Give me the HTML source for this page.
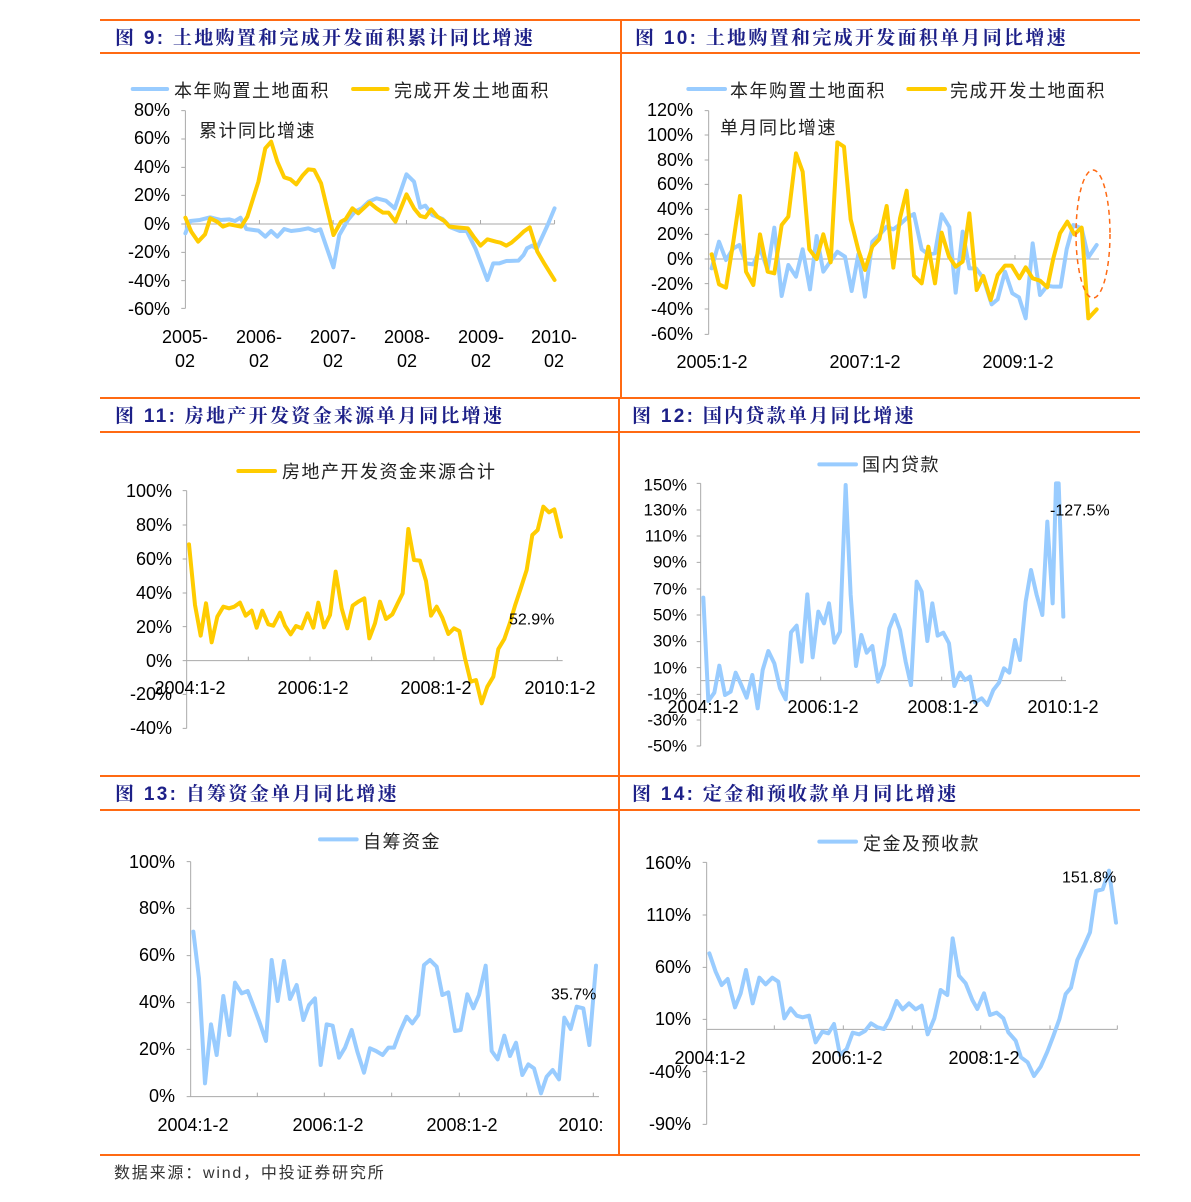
<!DOCTYPE html>
<html><head><meta charset="utf-8"><style>
html,body{margin:0;padding:0;background:#fff;}
svg{display:block;}
text{font-family:"Liberation Sans","Noto Sans CJK SC",sans-serif;fill:#000;}
.t{font-family:"Liberation Sans","Noto Serif CJK SC",serif;font-size:19px;font-weight:bold;fill:#1d2088;letter-spacing:2.3px;white-space:pre;}
.y{font-size:18px;text-anchor:end;dominant-baseline:central;}
.x{font-size:18px;text-anchor:middle;dominant-baseline:central;}
.lg{font-size:18px;dominant-baseline:central;fill:#222;letter-spacing:1.5px;}
.ln{fill:none;stroke-width:4;stroke-linejoin:round;stroke-linecap:round;vector-effect:non-scaling-stroke;}
.b{stroke:#99ccff;}
.yl{stroke:#ffcc00;}
.ax{stroke:#aaa;stroke-width:1;fill:none;vector-effect:non-scaling-stroke;}
.o{stroke:#ff6a13;stroke-width:2;}
</style></head><body>
<svg width="1191" height="1202" viewBox="0 0 1191 1202" xmlns="http://www.w3.org/2000/svg" xml:space="preserve">
<g class="o">
<line x1="100" y1="20" x2="1140" y2="20"/><line x1="100" y1="53" x2="1140" y2="53"/>
<line x1="621" y1="20" x2="621" y2="397"/>
<line x1="100" y1="398" x2="1140" y2="398"/><line x1="100" y1="432" x2="1140" y2="432"/>
<line x1="619" y1="398" x2="619" y2="1155"/>
<line x1="100" y1="776" x2="1140" y2="776"/><line x1="100" y1="810" x2="1140" y2="810"/>
<line x1="100" y1="1155" x2="1140" y2="1155"/>
</g>
<text class="t" x="115" y="44">图 9: 土地购置和完成开发面积累计同比增速</text>
<text class="t" x="635" y="44">图 10: 土地购置和完成开发面积单月同比增速</text>
<text class="t" x="115" y="422">图 11: 房地产开发资金来源单月同比增速</text>
<text class="t" x="632" y="422">图 12: 国内贷款单月同比增速</text>
<text class="t" x="115" y="800">图 13: 自筹资金单月同比增速</text>
<text class="t" x="632" y="800">图 14: 定金和预收款单月同比增速</text>
<text x="114" y="1178" style="font-size:16px;fill:#333;letter-spacing:1.8px">数据来源：wind，中投证券研究所</text>

<!-- Chart 9 -->
<g transform="translate(100,15) scale(0.34435,0.33333)">
<path class="ax" d="M248 287V880M236 287H248M236 372H248M236 457H248M236 541H248M236 627H248M236 712H248M236 797H248M236 880H248M248 627H1320M463 615V627M677 615V627M890 615V627M1105 615V627M1320 615V627"/>
<polyline class="ln b" points="248,655 262,618 290,615 320,607 350,615 375,613 392,618 408,608 425,642 460,647 480,665 497,648 515,665 535,642 555,648 580,645 605,640 625,648 640,643 678,757 695,660 720,615 740,590 760,580 780,560 803,550 830,557 856,580 890,478 912,500 930,578 945,572 965,600 995,612 1020,638 1045,648 1065,648 1090,700 1125,795 1142,745 1160,745 1180,738 1215,737 1230,720 1240,700 1255,692 1268,702 1300,630 1320,580"/>
<polyline class="ln yl" points="248,608 265,650 285,680 305,658 320,610 340,620 357,635 375,628 410,635 428,605 460,500 480,400 497,380 515,440 535,487 553,493 570,508 588,482 605,463 622,465 642,505 678,660 700,620 713,613 733,580 750,595 783,563 803,580 822,593 838,593 858,620 890,538 912,580 930,603 945,607 962,583 980,605 1000,618 1015,635 1045,638 1068,640 1085,665 1105,692 1125,673 1150,680 1163,683 1180,692 1195,683 1215,665 1230,650 1248,637 1270,710 1290,745 1320,795"/>
<line class="ln b" x1="95" y1="222" x2="195" y2="222"/>
<line class="ln yl" x1="735" y1="222" x2="835" y2="222"/>
</g>
<text class="lg" x="174" y="91">本年购置土地面积</text>
<text class="lg" x="394" y="91">完成开发土地面积</text>
<text class="lg" x="199" y="131">累计同比增速</text>
<g class="y"><text x="170" y="110">80%</text><text x="170" y="138">60%</text><text x="170" y="167">40%</text><text x="170" y="195">20%</text><text x="170" y="224">0%</text><text x="170" y="252">-20%</text><text x="170" y="281">-40%</text><text x="170" y="309">-60%</text></g>
<g class="x"><text x="185" y="337">2005-</text><text x="185" y="361">02</text><text x="259" y="337">2006-</text><text x="259" y="361">02</text><text x="333" y="337">2007-</text><text x="333" y="361">02</text><text x="407" y="337">2008-</text><text x="407" y="361">02</text><text x="481" y="337">2009-</text><text x="481" y="361">02</text><text x="554" y="337">2010-</text><text x="554" y="361">02</text></g>

<!-- Chart 10 -->
<g transform="translate(620,15) scale(0.33333)">
<path class="ax" d="M266 287V958M254 287H266M254 360H266M254 435H266M254 508H266M254 583H266M254 658H266M254 732H266M254 806H266M254 882H266M254 958H266M266 732H1437M725 720V732M1185 720V732"/>
<polyline class="ln b" points="275,760 297,680 318,735 340,700 358,690 378,745 400,748 420,700 443,765 463,638 485,843 505,750 528,785 548,703 570,823 590,663 610,770 632,738 652,710 675,725 695,828 715,718 735,845 757,680 778,660 800,635 820,643 840,628 862,608 882,597 905,703 925,718 945,715 965,598 988,636 1007,833 1028,650 1048,760 1068,760 1090,790 1115,868 1133,853 1155,770 1177,835 1197,847 1217,910 1238,685 1260,840 1282,812 1300,815 1322,815 1340,703 1360,630 1385,640 1405,727 1430,690"/>
<polyline class="ln yl" points="275,718 297,808 318,818 340,680 360,543 378,770 400,810 420,658 443,770 463,775 485,630 505,605 528,415 548,470 568,703 590,732 610,658 632,742 652,382 672,395 692,613 715,705 735,765 757,695 778,672 800,573 820,758 840,610 860,527 882,782 905,805 925,695 945,805 965,653 987,725 1007,755 1028,740 1048,595 1070,825 1090,783 1112,855 1133,780 1155,752 1175,752 1198,790 1217,757 1238,790 1260,797 1282,817 1300,730 1320,655 1342,620 1363,658 1385,638 1405,910 1430,883"/>
<line class="ln b" x1="205" y1="222" x2="315" y2="222"/>
<line class="ln yl" x1="865" y1="222" x2="975" y2="222"/>
</g>
<ellipse cx="1093" cy="234" rx="17" ry="64" fill="none" stroke="#ff6a13" stroke-width="1.5" stroke-dasharray="5,4"/>
<text class="lg" x="730" y="91">本年购置土地面积</text>
<text class="lg" x="950" y="91">完成开发土地面积</text>
<text class="lg" x="720" y="128">单月同比增速</text>
<g class="y"><text x="693" y="110">120%</text><text x="693" y="135">100%</text><text x="693" y="160">80%</text><text x="693" y="184">60%</text><text x="693" y="209">40%</text><text x="693" y="234">20%</text><text x="693" y="259">0%</text><text x="693" y="284">-20%</text><text x="693" y="309">-40%</text><text x="693" y="334">-60%</text></g>
<g class="x"><text x="712" y="362">2005:1-2</text><text x="865" y="362">2007:1-2</text><text x="1018" y="362">2009:1-2</text></g>

<!-- Chart 11 -->
<g transform="translate(100,395) scale(0.33333)">
<path class="ax" d="M260 287V1000M248 287H260M248 390H260M248 492H260M248 594H260M248 695H260M248 797H260M248 898H260M248 1000H260M260 797H1388M445 785V797M630 785V797M815 785V797M1002 785V797M1188 785V797M1372 785V797"/>
<polyline class="ln yl" points="267,448 285,630 302,722 318,625 335,742 352,665 370,635 387,640 403,635 420,623 437,662 455,647 470,698 487,647 505,688 520,692 540,653 555,692 572,718 588,693 605,700 623,655 640,698 655,623 672,697 690,660 707,530 725,640 742,700 758,632 775,620 793,610 808,730 825,685 840,620 858,672 877,658 893,625 908,595 925,402 942,495 960,497 978,558 993,662 1010,635 1027,668 1045,717 1062,700 1078,708 1095,790 1112,860 1128,855 1145,925 1162,875 1180,845 1195,762 1213,732 1230,683 1245,632 1263,578 1280,525 1297,420 1313,405 1330,335 1347,352 1363,343 1383,425"/>
<line class="ln yl" x1="415" y1="228" x2="525" y2="228"/>
</g>
<text class="lg" x="282" y="472">房地产开发资金来源合计</text>
<text x="509" y="620" style="font-size:16px;dominant-baseline:central">52.9%</text>
<g class="y"><text x="172" y="491">100%</text><text x="172" y="525">80%</text><text x="172" y="559">60%</text><text x="172" y="593">40%</text><text x="172" y="627">20%</text><text x="172" y="661">0%</text><text x="172" y="694">-20%</text><text x="172" y="728">-40%</text></g>
<g class="x"><text x="190" y="688">2004:1-2</text><text x="313" y="688">2006:1-2</text><text x="436" y="688">2008:1-2</text><text x="560" y="688">2010:1-2</text></g>

<!-- Chart 12 -->
<g transform="translate(620,395) scale(0.33333)">
<path class="ax" d="M242 265V1053M230 265H242M230 345H242M230 423H242M230 502H242M230 582H242M230 660H242M230 740H242M230 818H242M230 898H242M230 975H242M230 1053H242M242 857H1338M602 845V857M965 845V857M1325 845V857"/>
<polyline class="ln b" points="250,608 265,918 283,893 298,812 315,900 332,890 347,833 363,868 380,908 397,840 413,940 428,825 445,768 463,805 480,880 497,913 513,712 530,692 545,800 562,598 578,787 595,650 612,685 627,625 643,743 660,710 677,270 692,600 708,813 724,720 740,773 757,753 774,860 792,810 808,700 824,660 840,705 857,800 873,870 890,560 905,590 922,738 937,625 953,722 970,713 987,745 1003,873 1020,833 1035,855 1050,845 1065,922 1085,910 1102,930 1120,885 1137,863 1152,820 1168,833 1185,735 1200,795 1217,620 1233,525 1250,600 1267,660 1282,380 1298,625 1308,265 1316,265 1330,665"/>
<line class="ln b" x1="598" y1="208" x2="708" y2="208"/>
</g>
<text class="lg" x="862" y="465">国内贷款</text>
<text x="1050" y="511" style="font-size:16px;dominant-baseline:central">-127.5%</text>
<g class="y" style="font-size:17px"><text x="687" y="485">150%</text><text x="687" y="510">130%</text><text x="687" y="536">110%</text><text x="687" y="562">90%</text><text x="687" y="589">70%</text><text x="687" y="615">50%</text><text x="687" y="641">30%</text><text x="687" y="668">10%</text><text x="687" y="694">-10%</text><text x="687" y="720">-30%</text><text x="687" y="746">-50%</text></g>
<g class="x"><text x="703" y="707">2004:1-2</text><text x="823" y="707">2006:1-2</text><text x="943" y="707">2008:1-2</text><text x="1063" y="707">2010:1-2</text></g>

<!-- Chart 13 -->
<g transform="translate(100,775) scale(0.33333)">
<path class="ax" d="M272 260V965M260 260H272M260 400H272M260 542H272M260 683H272M260 823H272M260 965H272M272 965H1497M472 953V965M673 953V965M875 953V965M1078 953V965M1280 953V965M1480 953V965"/>
<polyline class="ln b" points="280,470 297,610 315,925 333,748 350,840 370,663 388,780 405,623 425,655 443,648 460,692 478,740 498,798 515,555 533,678 552,558 570,672 590,630 610,735 627,690 645,670 662,870 680,748 698,752 717,848 735,818 755,765 772,830 792,893 810,820 828,828 848,840 865,818 882,818 900,770 920,725 937,745 955,720 972,570 990,555 1010,575 1027,660 1045,652 1065,768 1082,765 1102,658 1120,700 1137,660 1157,572 1175,828 1193,853 1213,782 1230,843 1248,803 1267,900 1285,868 1302,880 1323,955 1340,905 1358,885 1377,913 1393,728 1412,762 1430,695 1450,700 1468,810 1488,572"/>
<line class="ln b" x1="660" y1="193" x2="770" y2="193"/>
</g>
<text class="lg" x="363" y="842">自筹资金</text>
<text x="551" y="995" style="font-size:16px;dominant-baseline:central">35.7%</text>
<g class="y"><text x="175" y="862">100%</text><text x="175" y="908">80%</text><text x="175" y="955">60%</text><text x="175" y="1002">40%</text><text x="175" y="1049">20%</text><text x="175" y="1096">0%</text></g>
<g class="x"><text x="193" y="1125">2004:1-2</text><text x="328" y="1125">2006:1-2</text><text x="462" y="1125">2008:1-2</text><text x="581" y="1125">2010:</text></g>

<!-- Chart 14 -->
<g transform="translate(620,775) scale(0.33333)">
<path class="ax" d="M260 262V1048M248 262H260M248 420H260M248 577H260M248 733H260M248 890H260M248 1048H260M260 763H1492M463 751V763M670 751V763M877 751V763M1082 751V763M1290 751V763M1492 751V763"/>
<polyline class="ln b" points="268,535 287,590 305,630 323,612 345,697 362,655 378,585 398,685 418,608 437,628 457,608 475,620 493,730 512,700 530,722 548,727 567,722 587,802 607,770 625,775 642,747 660,840 680,822 698,773 717,778 735,768 753,745 772,757 792,762 810,730 830,678 848,703 867,685 887,703 905,692 923,778 943,730 962,645 982,660 998,490 1017,602 1037,625 1057,675 1072,702 1092,655 1110,720 1130,713 1150,730 1165,772 1187,797 1203,847 1223,862 1242,903 1262,875 1282,830 1300,783 1318,733 1337,657 1353,638 1372,555 1392,513 1410,472 1428,348 1448,343 1467,287 1488,443"/>
<line class="ln b" x1="598" y1="200" x2="708" y2="200"/>
</g>
<text class="lg" x="863" y="844">定金及预收款</text>
<text x="1062" y="878" style="font-size:16px;dominant-baseline:central">151.8%</text>
<g class="y"><text x="691" y="863">160%</text><text x="691" y="915">110%</text><text x="691" y="967">60%</text><text x="691" y="1019">10%</text><text x="691" y="1072">-40%</text><text x="691" y="1124">-90%</text></g>
<g class="x"><text x="710" y="1058">2004:1-2</text><text x="847" y="1058">2006:1-2</text><text x="984" y="1058">2008:1-2</text></g>
</svg>
</body></html>
